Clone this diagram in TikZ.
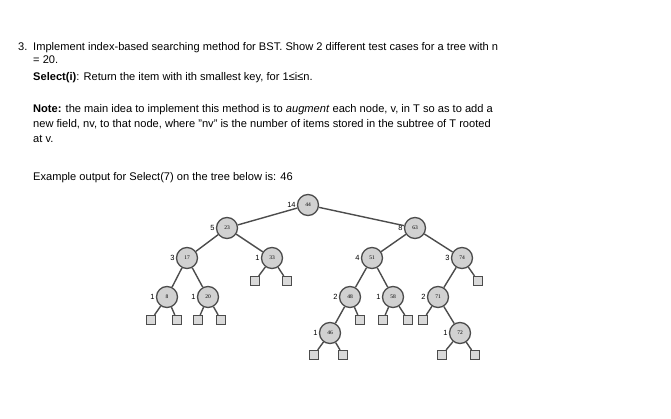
\documentclass[tikz,border=0pt]{standalone}
\usepackage{fontspec}
\setmainfont{Liberation Sans}
\newfontfamily\serifnum{Liberation Serif}
\begin{document}
\begin{tikzpicture}[x=1pt,y=-1pt,
  txt/.style={anchor=base west,inner sep=0pt,font=\fontsize{11.1}{12}\selectfont},
  key/.style={circle,draw=black!70,line width=1.3pt,fill=black!18,minimum size=21pt,inner sep=0pt,font=\serifnum\fontsize{5.5}{6}\selectfont},
  leaf/.style={rectangle,draw=black!70,line width=1.2pt,fill=black!15,minimum size=9pt,inner sep=0pt},
  cnt/.style={font=\fontsize{7.5}{8}\selectfont,inner sep=0pt},
  edge/.style={draw=black!70,line width=1.4pt}]
\useasboundingbox (0,0) rectangle (671,419);
\node[txt] (t0) at (18,51) {3.};
\node[txt] (t1) at (33,51) {Implement index-based searching method for BST. Show 2 different test cases for a tree with n};
\node[txt] (t2) at (33,64) {= 20.};
\node[txt] (t3) at (33,81) {\textbf{Select(i)}: Return the item with ith smallest key, for 1≤i≤n.};
\node[txt] (t4) at (33,113) {\textbf{Note:} the main idea to implement this method is to \textit{augment} each node, v, in T so as to add a};
\node[txt] (t5) at (33,128) {new field, nv, to that node, where "nv" is the number of items stored in the subtree of T rooted};
\node[txt] (t6) at (33,143) {at v.};
\node[txt] (t7) at (33,181) {Example output for Select(7) on the tree below is: 46};
% keys
\foreach \n/\x/\y/\c in {44/308/205/14, 23/227/228/5, 63/415/228/8, 17/187/258/3, 33/272/258/1, 51/372/258/4, 74/462/258/3, 8/167/297/1, 20/208/297/1, 48/350/297/2, 58/393/297/1, 71/438/297/2, 46/330/333/1, 72/460/333/1}{
  \node[key] (k\n) at (\x,\y) {\n};
  \node[cnt,anchor=south east] (c\n) at ([xshift=-1pt,yshift=-3pt]k\n.west) {\c};
}
\foreach \n/\x/\y in {a/255/281, b/287/281, c/478/281, d/151/320, e/177/320, f/198/320, g/221/320, h/360/320, i/383/320, j/408/320, k/423/320, l/314/355, m/343/355, n/442/355, o/475/355}{
  \node[leaf] (l\n) at (\x,\y) {};
}
\foreach \a/\b in {k44/k23, k44/k63, k23/k17, k23/k33, k63/k51, k63/k74, k17/k8, k17/k20, k33/la, k33/lb, k51/k48, k51/k58, k74/k71, k74/lc, k8/ld, k8/le, k20/lf, k20/lg, k48/k46, k48/lh, k58/li, k58/lj, k71/lk, k71/k72, k46/ll, k46/lm, k72/ln, k72/lo}
  \draw[edge] (\a) -- (\b);
\end{tikzpicture}
\end{document}
